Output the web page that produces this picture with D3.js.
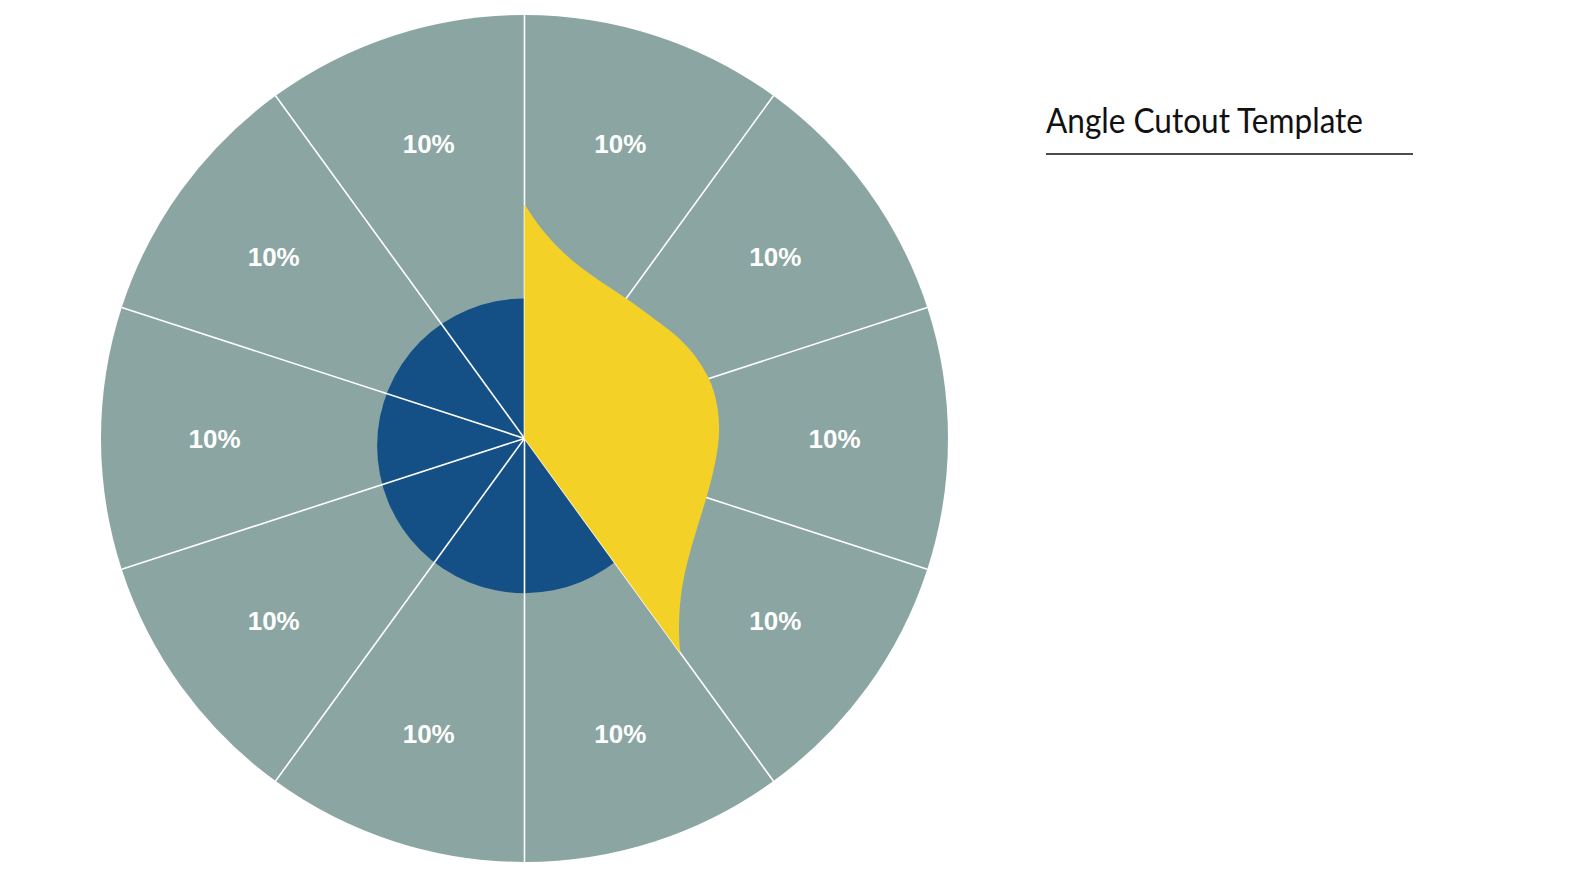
<!DOCTYPE html>
<html>
<head>
<meta charset="utf-8">
<script src="https://cdn.jsdelivr.net/npm/d3@7"></script>
<style>
  html, body { margin: 0; padding: 0; background: #fff; }
  svg { display: block; }
</style>
</head>
<body>
<svg id="chart" width="1588" height="893"></svg>
<script>
// ---- data ----
const categories = ["A","B","C","D","E","F","G","H","I","J"];
const sliceValues = [10,10,10,10,10,10,10,10,10,10];
const sliceLabels = sliceValues.map(v => v + "%");
// cutout boundary: angle (degrees, clockwise from top) and radius (fraction of outer radius)
const cutoutAngles = [0, 0, 5.2, 16.9, 36.1, 49.6, 59.6, 71.6, 80.7, 90, 100.4, 107.7, 118, 127.6, 135.5, 141.2, 144, 144];
const cutoutRadii  = [0.553, 0.553, 0.487, 0.424, 0.410, 0.420, 0.444, 0.462, 0.464, 0.462, 0.453, 0.452, 0.460, 0.483, 0.524, 0.580, 0.626, 0.626];
const innerCoreRadius = 0.348; // fraction of outer radius
const title = "Angle Cutout Template";

// ---- layout ----
const cx = 524.5, cy = 438.4, R = 423.5;
const grey = "#8ba6a2", blue = "#144f86", yellow = "#f4d126";

const svg = d3.select("#chart");
const g = svg.append("g").attr("transform", `translate(${cx},${cy})`);

const rScale = d3.scaleLinear().domain([0, 1]).range([0, R]);
const aScale = d3.scaleLinear().domain([0, 360]).range([0, 2 * Math.PI]);

const pie = d3.pie().sort(null).value(d => d);
const arcs = pie(sliceValues);
const arc = d3.arc().innerRadius(0).outerRadius(rScale(1));

// grey slices
g.selectAll("path.slice").data(arcs).join("path")
  .attr("class", "slice")
  .attr("d", arc)
  .attr("fill", grey);

// inner blue core
g.append("circle")
  .attr("cx", 0).attr("cy", 7.4)
  .attr("r", rScale(innerCoreRadius))
  .attr("fill", blue);

// white separators
g.selectAll("line.sep").data(arcs).join("line")
  .attr("class", "sep")
  .attr("x1", 0).attr("y1", 0)
  .attr("x2", d => rScale(1) * Math.sin(d.startAngle))
  .attr("y2", d => -rScale(1) * Math.cos(d.startAngle))
  .attr("stroke", "#fff")
  .attr("stroke-width", 1.6);

// yellow cutout
const cutout = cutoutAngles.map((a, i) => ({ a, r: cutoutRadii[i] }));
const area = d3.areaRadial()
  .angle(d => aScale(d.a))
  .innerRadius(0)
  .outerRadius(d => rScale(d.r))
  .curve(d3.curveBasis);
g.append("path")
  .datum(cutout)
  .attr("d", area)
  .attr("fill", yellow);

// labels
const labelArc = d3.arc().innerRadius(rScale(0.732)).outerRadius(rScale(0.732));
g.selectAll("text.lbl").data(arcs).join("text")
  .attr("class", "lbl")
  .attr("transform", d => `translate(${labelArc.centroid(d)})`)
  .attr("text-anchor", "middle")
  .attr("dy", "0.36em")
  .attr("fill", "#fff")
  .attr("font-family", "Liberation Sans, Arial, sans-serif")
  .attr("font-weight", "bold")
  .attr("font-size", 26)
  .text((d, i) => sliceLabels[i]);

// title
svg.append("text")
  .attr("x", 1046).attr("y", 133)
  .attr("font-family", "Lato, 'Open Sans', sans-serif")
  .attr("font-size", 34)
  .attr("fill", "#111")
  .attr("textLength", 317)
  .attr("lengthAdjust", "spacingAndGlyphs")
  .text(title);
svg.append("line")
  .attr("x1", 1046).attr("x2", 1413)
  .attr("y1", 154).attr("y2", 154)
  .attr("stroke", "#111")
  .attr("stroke-width", 1.6);
</script>
</body>
</html>
